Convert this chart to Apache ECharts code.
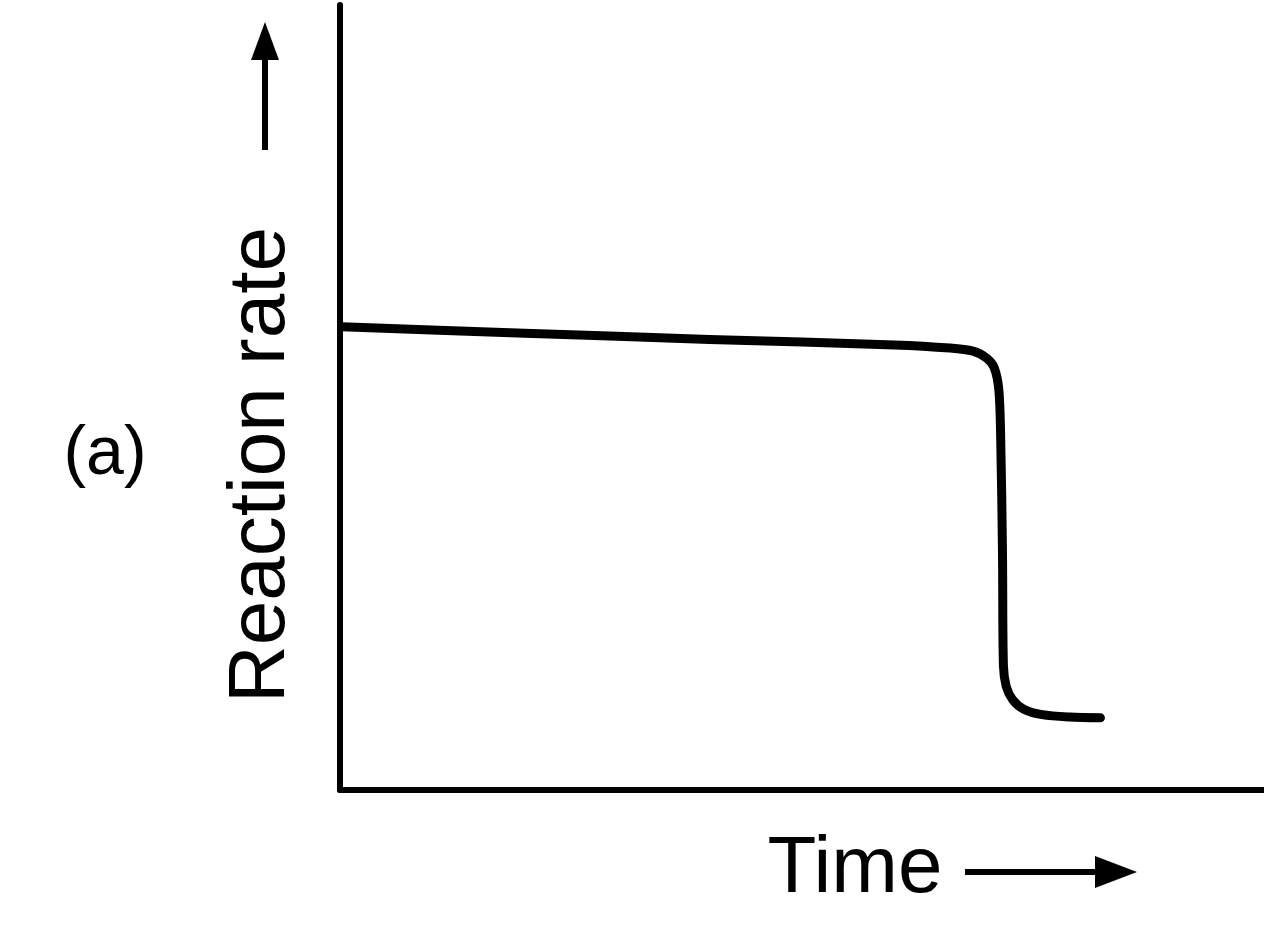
<!DOCTYPE html>
<html>
<head>
<meta charset="utf-8">
<title>Reaction rate vs Time</title>
<script src="https://cdn.jsdelivr.net/npm/echarts@6/dist/echarts.min.js"></script>
<style>
  html, body { margin: 0; padding: 0; background: #fff; }
  #main { width: 1264px; height: 938px; }
</style>
</head>
<body>
<div id="main"></div>
<script>
// curve (x: time 0-100, y: rate 0-100)
var timeVals = [0.2, 20, 40, 60, 66, 68.5, 70, 70.8, 71.3, 71.5, 71.7, 71.8, 72.1, 72.8, 74, 76, 79, 82.3];
var rateVals = [59.0, 58.2, 57.4, 56.7, 56.3, 55.9, 55.0, 53.8, 51.0, 45.0, 30.0, 15.8, 13.2, 11.5, 10.3, 9.6, 9.3, 9.2];

var yName = 'Reaction rate';
var xName = 'Time';
var panel = '(a)';

var chart = echarts.init(document.getElementById('main'));

var points = [];
for (var i = 0; i < timeVals.length; i++) {
    points.push([timeVals[i], rateVals[i]]);
}

var option = {
    backgroundColor: '#fff',
    animation: false,
    grid: { left: 340, right: 0, top: 5, bottom: 148 },
    xAxis: {
        type: 'value', min: 0, max: 100,
        axisLine: { show: true, lineStyle: { color: '#000', width: 6 } },
        axisTick: { show: false }, axisLabel: { show: false }, splitLine: { show: false }
    },
    yAxis: {
        type: 'value', min: 0, max: 100,
        axisLine: { show: true, lineStyle: { color: '#000', width: 6 } },
        axisTick: { show: false }, axisLabel: { show: false }, splitLine: { show: false }
    },
    series: [{
        type: 'line',
        data: points,
        smooth: 0.3,
        symbol: 'none',
        lineStyle: { color: '#000', width: 9, cap: 'round', join: 'round' }
    }],
    graphic: [
        // y-axis name, rotated
        {
            type: 'text', x: 262, y: 465, rotation: Math.PI / 2,
            style: { text: yName, fill: '#000', font: '80px "Liberation Sans", Arial, sans-serif',
                     align: 'center', verticalAlign: 'middle' }
        },
        // up arrow
        { type: 'line', shape: { x1: 265, y1: 150, x2: 265, y2: 55 }, style: { stroke: '#000', lineWidth: 6 } },
        { type: 'polygon', shape: { points: [[265, 22], [251, 60], [279, 60]] }, style: { fill: '#000' } },
        // panel label
        {
            type: 'text', x: 105, y: 455,
            style: { text: panel, fill: '#000', font: '68px "Liberation Sans", Arial, sans-serif',
                     align: 'center', verticalAlign: 'middle' }
        },
        // x-axis name
        {
            type: 'text', x: 855, y: 870,
            style: { text: xName, fill: '#000', font: '80px "Liberation Sans", Arial, sans-serif',
                     align: 'center', verticalAlign: 'middle' }
        },
        // right arrow
        { type: 'line', shape: { x1: 965, y1: 872, x2: 1105, y2: 872 }, style: { stroke: '#000', lineWidth: 6 } },
        { type: 'polygon', shape: { points: [[1137, 872], [1095, 856], [1095, 888]] }, style: { fill: '#000' } }
    ]
};

chart.setOption(option);
</script>
</body>
</html>
